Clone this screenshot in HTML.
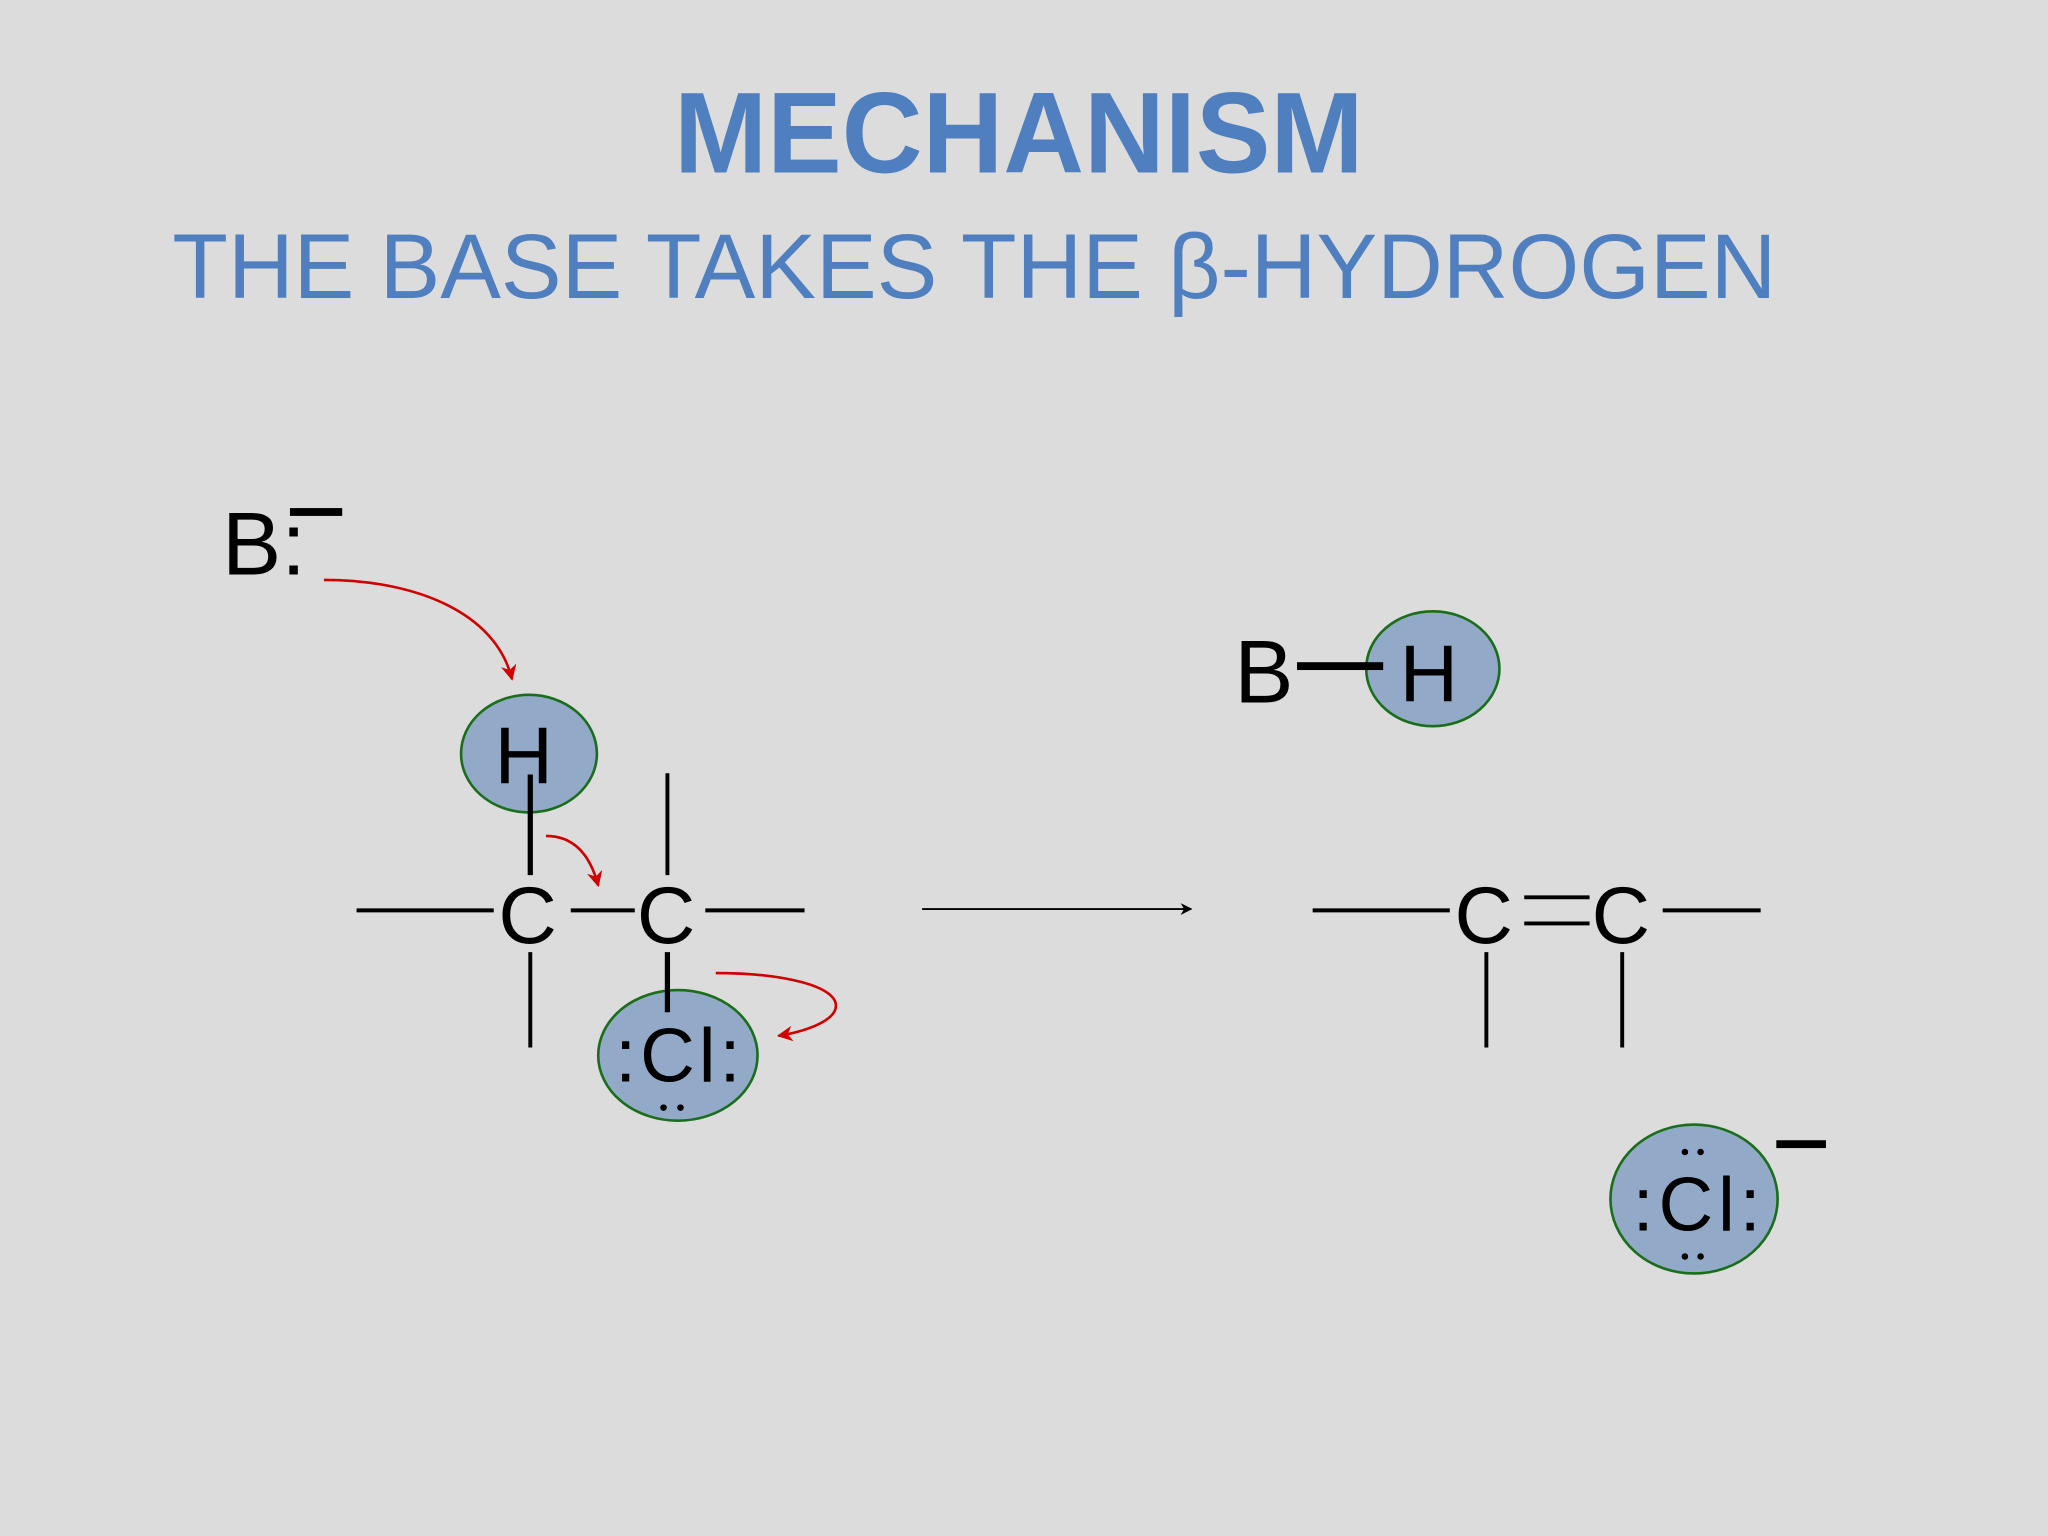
<!DOCTYPE html>
<html><head><meta charset="utf-8"><style>
html,body{margin:0;padding:0;background:#dcdcdc;}
svg{display:block;}
text{font-family:"Liberation Sans",sans-serif;}
</style></head><body>
<svg width="2048" height="1536" viewBox="0 0 1568 1176" xmlns="http://www.w3.org/2000/svg">
<defs>
<marker id="ra" viewBox="0 0 10 10" refX="9" refY="5" markerWidth="16" markerHeight="12" orient="auto" markerUnits="userSpaceOnUse">
<path d="M0,0 L10,5 L0,10 L3,5 Z" fill="#d00000"/></marker>
<marker id="ka" viewBox="0 0 10 10" refX="9" refY="5" markerWidth="14" markerHeight="9" orient="auto" markerUnits="userSpaceOnUse">
<path d="M0,0 L10,5 L0,10 L3,5 Z" fill="#000"/></marker>
</defs>
<rect width="1568" height="1176" fill="#dcdcdc"/>
<text x="780" y="132" font-size="88" font-weight="bold" fill="#4f7fbf" text-anchor="middle" textLength="528" lengthAdjust="spacingAndGlyphs">MECHANISM</text>
<text x="746" y="228" font-size="70" fill="#4f7fbf" text-anchor="middle" textLength="1228" lengthAdjust="spacingAndGlyphs">THE BASE TAKES THE β-HYDROGEN</text>

<!-- left -->
<text x="170" y="440" font-size="68" fill="#000">B:</text>
<rect x="222" y="389" width="40" height="6" fill="#000"/>
<path d="M248,444 C320,444 380,470 392,520" fill="none" stroke="#d00000" stroke-width="2" marker-end="url(#ra)"/>

<ellipse cx="405" cy="577" rx="52" ry="45" fill="#92a9c8" stroke="#1a6e1a" stroke-width="2"/>
<text x="401" y="600" font-size="62" fill="#000" text-anchor="middle">H</text>
<line x1="406" y1="593" x2="406" y2="670" stroke="#000" stroke-width="4"/>
<path d="M418,640 C440,640 452,655 458,678" fill="none" stroke="#d00000" stroke-width="2" marker-end="url(#ra)"/>

<g stroke="#000" stroke-width="3">
<line x1="273" y1="697" x2="378" y2="697"/>
<line x1="437" y1="697" x2="486" y2="697"/>
<line x1="540" y1="697" x2="616" y2="697"/>
<line x1="511" y1="592" x2="511" y2="670"/>
<line x1="406" y1="729" x2="406" y2="802"/>
</g>
<text x="404" y="722" font-size="62" fill="#000" text-anchor="middle">C</text>
<text x="510" y="722" font-size="62" fill="#000" text-anchor="middle">C</text>

<ellipse cx="519" cy="808" rx="61" ry="50" fill="#92a9c8" stroke="#1a6e1a" stroke-width="2"/>
<line x1="511" y1="729" x2="511" y2="775" stroke="#000" stroke-width="4"/>
<text x="519" y="828" font-size="58" fill="#000" text-anchor="middle" textLength="96" lengthAdjust="spacing">:Cl:</text>
<circle cx="508" cy="848" r="2.5" fill="#000"/><circle cx="521" cy="848" r="2.5" fill="#000"/>
<path d="M548,745 C600,745 640,755 640,770 C640,782 615,790 596,793" fill="none" stroke="#d00000" stroke-width="2" marker-end="url(#ra)"/>

<line x1="706" y1="696" x2="912" y2="696" stroke="#000" stroke-width="1.5" marker-end="url(#ka)"/>

<!-- right -->
<text x="945" y="538" font-size="68" fill="#000">B</text>
<ellipse cx="1097" cy="512" rx="51" ry="44" fill="#92a9c8" stroke="#1a6e1a" stroke-width="2"/>
<rect x="993" y="507" width="66" height="6" fill="#000"/>
<text x="1094" y="537" font-size="62" fill="#000" text-anchor="middle">H</text>

<g stroke="#000" stroke-width="3">
<line x1="1005" y1="697" x2="1110" y2="697"/>
<line x1="1167" y1="687" x2="1217" y2="687"/>
<line x1="1167" y1="707" x2="1217" y2="707"/>
<line x1="1273" y1="697" x2="1348" y2="697"/>
<line x1="1138" y1="729" x2="1138" y2="802"/>
<line x1="1242" y1="729" x2="1242" y2="802"/>
</g>
<text x="1136" y="722" font-size="62" fill="#000" text-anchor="middle">C</text>
<text x="1241" y="722" font-size="62" fill="#000" text-anchor="middle">C</text>

<ellipse cx="1297" cy="918" rx="64" ry="57" fill="#92a9c8" stroke="#1a6e1a" stroke-width="2"/>
<text x="1299" y="942" font-size="58" fill="#000" text-anchor="middle" textLength="98" lengthAdjust="spacing">:Cl:</text>
<circle cx="1290" cy="882" r="2.5" fill="#000"/><circle cx="1302" cy="882" r="2.5" fill="#000"/>
<circle cx="1290" cy="962" r="2.5" fill="#000"/><circle cx="1302" cy="962" r="2.5" fill="#000"/>
<rect x="1360" y="873" width="38" height="6" fill="#000"/>
</svg>
</body></html>
